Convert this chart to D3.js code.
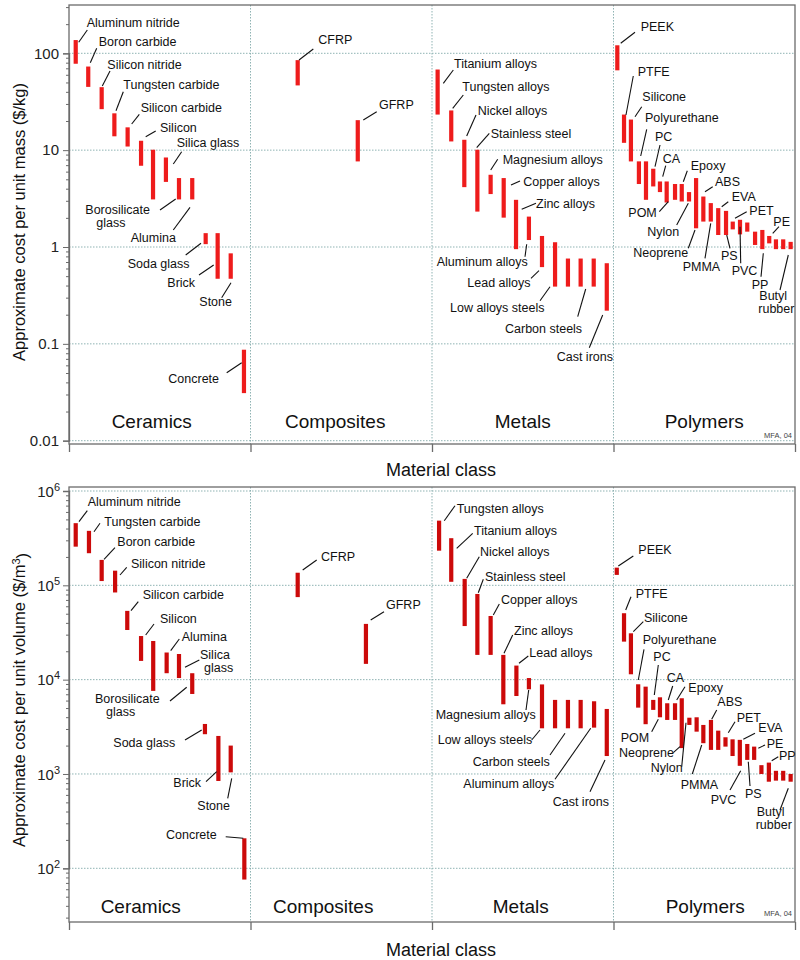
<!DOCTYPE html>
<html><head><meta charset="utf-8">
<script src="https://cdn.jsdelivr.net/npm/d3@7"></script>
<style>body{margin:0;background:#fff}text{font-family:"Liberation Sans",Arial,sans-serif}</style>
</head><body><svg id="c" width="800" height="960"></svg>
<script>
const classNames = ["Ceramics","Composites","Metals","Polymers"];
const massTicks = [0.01,0.1,1,10,100];
const volTicks = [1e2,1e3,1e4,1e5,1e6];

// Cost per unit mass ($/kg)
const massNames = ["Aluminum nitride","Boron carbide","Silicon nitride","Tungsten carbide","Silicon carbide","Silicon","","Silica glass","Borosilicate glass","Alumina","Soda glass","Brick","Stone","Concrete",
"CFRP","GFRP",
"Titanium alloys","Tungsten alloys","Nickel alloys","Stainless steel","Magnesium alloys","Copper alloys","Zinc alloys","Aluminum alloys","Lead alloys","Low alloys steels","","Carbon steels","","Cast irons",
"PEEK","PTFE","Silicone","Polyurethane","","PC","CA","POM","","Epoxy","Nylon","Neoprene","ABS","PMMA","EVA","PS","PET","PVC","","","PP","PE","","","Butyl rubber"];
const massPos = [0.037,0.106,0.180,0.250,0.323,0.397,0.463,0.534,0.606,0.679,0.753,0.819,0.891,0.964,
1.260,1.591,
2.031,2.106,2.178,2.250,2.323,2.395,2.463,2.534,2.606,2.678,2.749,2.819,2.891,2.963,
3.021,3.058,3.096,3.140,3.179,3.219,3.256,3.293,3.339,3.376,3.416,3.455,3.495,3.536,3.577,3.620,3.657,3.697,3.737,3.780,3.820,3.858,3.895,3.935,3.976];
const massLo = [78,45,26.5,13.9,10.9,6.9,3.1,4.7,3.1,3.1,1.07,0.47,0.47,0.031,
46.6,7.65,
23.3,12.3,4.15,2.32,3.52,2.01,0.95,1.18,0.62,0.39,0.39,0.39,0.39,0.22,
66.7,11.9,7.65,4.47,3.07,4.22,3.69,2.88,3.07,2.95,2.95,1.56,1.83,1.83,1.33,1.33,1.52,1.35,1.44,1.05,0.95,1.09,0.95,0.95,0.95];
const massHi = [137,73,44.7,24,17.2,12.5,10.1,8.4,5.15,5.15,1.39,1.39,0.86,0.087,
85,20.4,
68,25.7,12.8,10.1,5.57,5.15,3.07,2.06,1.3,1.12,0.76,0.76,0.76,0.68,
121,23.3,20.7,7.66,7.66,6.43,4.75,4.75,4.47,4.47,3.69,5.15,3.32,2.84,2.52,2.36,1.83,1.91,1.79,1.44,1.50,1.30,1.20,1.20,1.13];

// Cost per unit volume ($/m3)
const volNames = ["Aluminum nitride","Tungsten carbide","Boron carbide","Silicon nitride","Silicon carbide","Silicon","","Alumina","Silica glass","Borosilicate glass","Soda glass","Brick","Stone","Concrete",
"CFRP","GFRP",
"Tungsten alloys","Titanium alloys","Nickel alloys","Stainless steel","Copper alloys","Zinc alloys","Lead alloys","Magnesium alloys","Low alloys steels","","Carbon steels","","Aluminum alloys","Cast irons",
"PEEK","PTFE","Silicone","Polyurethane","","PC","POM","CA","Epoxy","Neoprene","Nylon","","PMMA","ABS","","PET","PVC","EVA","PS","PE","","PP","","","Butyl rubber"];
const volPos = [0.037,0.110,0.180,0.254,0.321,0.397,0.464,0.538,0.606,0.679,0.749,0.823,0.891,0.966,
1.260,1.636,
2.039,2.106,2.180,2.250,2.323,2.393,2.465,2.534,2.606,2.678,2.749,2.819,2.893,2.963,
3.018,3.058,3.096,3.136,3.177,3.219,3.256,3.296,3.339,3.376,3.418,3.458,3.495,3.537,3.577,3.617,3.656,3.696,3.737,3.775,3.815,3.856,3.895,3.935,3.976];
const volLo = [257000,219000,111000,84000,33600,15800,7600,11700,10400,7050,2640,843,1040,76,
75000,14700,
233000,109000,37000,18300,18300,5480,6710,7900,3050,3050,3050,3050,3100,1550,
129000,25300,11400,5050,3370,4780,3990,3740,3740,1880,3310,2810,2120,1800,1800,1950,1550,1220,1410,1410,1000,828,850,850,828];
const volHi = [456000,378000,186000,143000,53600,29000,25700,19400,18700,11700,3390,2530,2000,208,
136000,39000,
485000,316000,117000,81000,47300,18300,14100,10400,8900,6100,6100,6100,5900,4890,
154000,50600,31000,8930,8430,6100,6500,5620,5620,6350,3950,3990,3310,3740,2880,2450,2330,2300,2080,1950,1240,1320,1080,1080,1000];

// annotation layout (text, text x, baseline y, leader x1,y1,x2,y2, second-line x offset)
const massLabels = [
["Aluminum nitride",86.7,27,87.3,30,78.7,42.3],["Boron carbide",98.7,46,96.7,48.3,90.3,62.7],
["Silicon nitride",107.3,68.5,110,71,102.3,86],["Tungsten carbide",123.3,88.5,123.3,91.7,116,110.7],
["Silicon carbide",140.7,112,139.3,114.3,131.7,124],["Silicon",160,131.5,155.7,131,145.7,136.7],
["Silica glass",176.7,147,181.7,151.7,173.3,164],["Borosilicate\nglass",85.3,214,160,210,175.7,199,11],
["Alumina",130.7,242,173.3,230,190,207.3],["Soda glass",127.7,267.5,185.7,255,201,243.3],
["Brick",167.3,286.5,199,275,213.7,265],["Stone",199.3,306,221.7,297.7,231,282.7],
["Concrete",168.3,383,226.7,372.7,241.7,362.7],["CFRP",318.3,44,313.3,49,299,60],
["GFRP",379,109,376.7,111.7,363.3,120],
["Titanium alloys",454,68,443.3,83.3,453.3,70],["Tungsten alloys",462.3,91,452.7,108.3,463.3,95],
["Nickel alloys",477.7,115,466.7,136,476,115],["Stainless steel",490.7,138,476.7,147.7,489.3,133.3],
["Magnesium alloys",502.7,164,490.7,170,497.7,159.3],["Copper alloys",523.3,186,511,185,520,181],
["Zinc alloys",536,207.5,521.7,209.3,536,203.3],["Aluminum alloys",436.7,266,526.7,244.3,525,256.7],
["Lead alloys",467.3,287,531,278.3,539,270.7],["Low alloys steels",450,312,540,300.7,550,286.7],
["Carbon steels",505,332.5,577.7,316.7,585.7,289],["Cast irons",556.7,361,589.3,347.7,602.7,315],
["PEEK",640.7,31,635,32.3,620.7,43.3],["PTFE",637.7,76,633.3,76,626,115],
["Silicone",642.3,101,641.7,106.7,635,116.7],["Polyurethane",645,122,646.7,129.3,640.7,156],
["PC",655,141,660,145,655,166.7],["CA",662.7,163,665.7,165.7,662.7,176.7],
["Epoxy",690.7,170,687.3,170.7,683.3,181.7],["ABS",715,186,712.7,186.7,705,191.7],
["EVA",731.7,201,728.3,201.7,721.7,206.7],["PET",749.3,215,746.7,211.7,735,218.3],
["PE",773.3,226,779,226.7,772.7,233.3],["POM",628.3,217,659.3,211.7,668.3,201.7],
["Nylon",647.3,236,676.7,225,688.3,203.3],["Neoprene",633.3,257,688.3,248.3,695,230],
["PMMA",682.7,271,705,258.3,710.7,223.3],["PS",721,260,730,248.3,726.7,235],
["PVC",731.7,275,740.7,263.3,740,226.7],["PP",751.7,289,761,276.7,763.3,253.3],
["Butyl\nrubber",759.3,300,780,290,788.3,255,-1]];
const volLabels = [
["Aluminum nitride",87.7,506,87.3,510.7,79,521.7],["Tungsten carbide",104.3,526,100,523.3,94,531.7],
["Boron carbide",117.3,546,115,547.7,104,559.3],["Silicon nitride",131,568,126.7,567.3,120,575],
["Silicon carbide",142.7,599,138.3,601.7,131,610.7],["Silicon",160,623,154,624,145.7,635],
["Alumina",181.7,641,179.3,639,170.7,650.7],["Silica\nglass",200,659,199.3,660,185,667.3,4],
["Borosilicate\nglass",95,703,170,701,186.7,687.3,11],["Soda glass",113.3,747,185,740,201.7,730],
["Brick",173.3,787,206,781.7,216.7,771.7],["Stone",197.3,810,227.7,798.3,231.7,778.3],
["Concrete",166,839,225.7,836.7,243.3,838.3],["CFRP",321,561,316.7,560,302.7,570],
["GFRP",386,609,384,611.7,370.7,620],
["Tungsten alloys",456.7,513,455,505.7,444.3,520.7],["Titanium alloys",474,535,472.7,533.3,456.7,548.3],
["Nickel alloys",480,556,479.3,556.7,466.7,578.3],["Stainless steel",485,581,483.3,579.3,478.3,592.7],
["Copper alloys",501,604,499.3,604,493.3,615],["Zinc alloys",514,635,512.7,635,504,653.3],
["Lead alloys",529.3,657,528.3,656,519,663.3],["Magnesium alloys",435.7,718.5,526,710,528.7,690],
["Low alloys steels",437.7,744,531.7,740,540,730],["Carbon steels",472.7,766,550,755,565,733.3],
["Aluminum alloys",463.3,788,555,779.3,590.7,728.3],["Cast irons",552.7,806,590,791.7,605,760],
["PEEK",638.3,554,633.3,556,618.3,566],["PTFE",635.7,598,631,596.7,625.7,610],
["Silicone",644,622,643.3,621.7,633.3,631.7],["Polyurethane",642.7,644,644,649.3,638.3,680],
["PC",653.3,661,658.3,665,654.3,695],["CA",666.7,682,672.7,686,668.3,700],
["Epoxy",688.3,692,685,686.7,676.7,700],["ABS",717.3,706,716.7,710,711.7,719.3],
["PET",736.7,722,735,721.7,728.3,732.7],["EVA",758.3,732,755,733.3,743.3,739.3],
["PE",766.7,748,765,745,758.3,748.3],["PP",779,760,778.3,756.7,771.7,760.7],
["POM",620.7,742,651.7,731.7,658.3,719.3],["Neoprene",619,757,673.3,752.7,680,746.7],
["Nylon",650.7,772,681.7,766.7,686,722.7],["PMMA",680.7,789,692.3,774,701.7,745],
["PVC",710.7,804,730,790,740.7,770.7],["PS",745,798,750,786,748.3,761.7],
["Butyl\nrubber",756.7,816,780,810,788.3,788.3,-1]];

const svg = d3.select("#c");
const x = d3.scaleLinear().domain([0,4]).range([69,795]);
const grid = "#8fb3b3";

function panel(o){
  const g = svg.append("g");
  const y = o.y;
  g.selectAll(".hg").data(o.ticks).join("line").attr("x1",69).attr("x2",795)
    .attr("y1",d=>y(d)).attr("y2",d=>y(d)).attr("stroke",grid).attr("stroke-dasharray","1.5,1.5").attr("stroke-width",1);
  g.selectAll(".vg").data([1,2,3]).join("line").attr("x1",d=>x(d)).attr("x2",d=>x(d))
    .attr("y1",o.top).attr("y2",o.bot).attr("stroke",grid).attr("stroke-dasharray","1.5,1.5");
  g.append("rect").attr("x",69).attr("y",o.top).attr("width",726).attr("height",o.bot-o.top)
    .attr("fill","none").attr("stroke","#6b6b6b").attr("stroke-width",1.3);
  const ya = g.append("g").attr("transform","translate(69,0)")
    .call(d3.axisLeft(y).tickValues(o.ticks).tickSize(6).tickFormat(o.fmt ? "" : d=>d3.format("~g")(d)));
  ya.select(".domain").attr("stroke","#6b6b6b").attr("stroke-width",1.3);
  ya.selectAll("text").attr("font-size",15).attr("fill","#222").attr("dx",-1);
  if(o.fmt){
    ya.selectAll(".tick text").remove();
    ya.selectAll(".tick").append("text").attr("x",-9).attr("dy","0.35em").attr("text-anchor","end")
      .attr("font-size",15).attr("fill","#222")
      .call(t=>{t.append("tspan").text("10"); t.append("tspan").attr("font-size",11).attr("dy","-0.55em").text(d=>Math.round(Math.log10(d)));});
  }
  ya.selectAll(".tick line").attr("stroke","#6b6b6b");
  const minors=[];
  for(let e=-3;e<8;e++) for(let m=2;m<10;m++){const v=m*Math.pow(10,e); const p=y(v); if(p>o.top+1&&p<o.bot-1) minors.push(v);}
  const ym = g.append("g").attr("transform","translate(69,0)").call(d3.axisLeft(y).tickValues(minors).tickSize(3).tickFormat(""));
  ym.select(".domain").remove(); ym.selectAll("line").attr("stroke","#6b6b6b");
  const xa = g.append("g").attr("transform",`translate(0,${o.bot})`).call(d3.axisBottom(x).tickValues([0,1,2,3,4]).tickSize(8).tickFormat(""));
  xa.select(".domain").remove(); xa.selectAll("line").attr("stroke","#6b6b6b").attr("stroke-width",1.3);
  g.selectAll(".bar").data(o.pos).join("rect").attr("x",d=>x(d)-2.1).attr("width",4.2)
    .attr("y",(d,i)=>y(o.hi[i])).attr("height",(d,i)=>y(o.lo[i])-y(o.hi[i])).attr("fill",o.color);
  o.labels.forEach(l=>{
    g.append("line").attr("x1",l[3]).attr("y1",l[4]).attr("x2",l[5]).attr("y2",l[6]).attr("stroke","#111").attr("stroke-width",1.1);
    const t=g.append("text").attr("x",l[1]).attr("y",l[2]).attr("font-size",12.5).attr("fill","#111");
    l[0].split("\n").forEach((s,k)=>t.append("tspan").attr("x",l[1]+(k?(l[7]||0):0)).attr("dy",k?12.5:0).text(s));
  });
  g.selectAll(".cn").data(classNames).join("text").attr("x",(d,i)=>x(i+0.5)+o.cnOff[i]).attr("y",o.cnY)
    .attr("text-anchor","middle").attr("font-size",19).attr("fill","#111").text(d=>d);
  g.append("text").attr("x",792).attr("y",o.bot-6).attr("text-anchor","end").attr("font-size",7.5).attr("fill","#444").text("MFA, 04");
  g.append("text").attr("x",441).attr("y",o.xtY).attr("text-anchor","middle").attr("font-size",18).attr("fill","#111").text("Material class");
  const yt=g.append("text").attr("transform",`translate(25,${o.ytY}) rotate(-90)`).attr("text-anchor","middle").attr("font-size",16.5).attr("fill","#111");
  yt.append("tspan").text(o.ytitle);
  if(o.fmt){yt.append("tspan").attr("font-size",11).attr("dy","-0.5em").text("3"); yt.append("tspan").attr("dy","0.5em").text(")");}
}

panel({y:d3.scaleLog().domain([0.01,100]).range([440.7,53.3]),top:5,bot:444,ticks:massTicks,fmt:false,
  pos:massPos,lo:massLo,hi:massHi,labels:massLabels,color:"#ee1c1c",cnY:428,cnOff:[-8,-6,0,0],xtY:476,ytY:222,
  ytitle:"Approximate cost per unit mass ($/kg)"});
panel({y:d3.scaleLog().domain([100,1e6]).range([868.3,491]),top:487,bot:922,ticks:volTicks,fmt:true,
  pos:volPos,lo:volLo,hi:volHi,labels:volLabels,color:"#cc0a0a",cnY:913,cnOff:[-19,-18,-2,1],xtY:956,ytY:700,
  ytitle:"Approximate cost per unit volume ($/m"});
</script></body></html>
